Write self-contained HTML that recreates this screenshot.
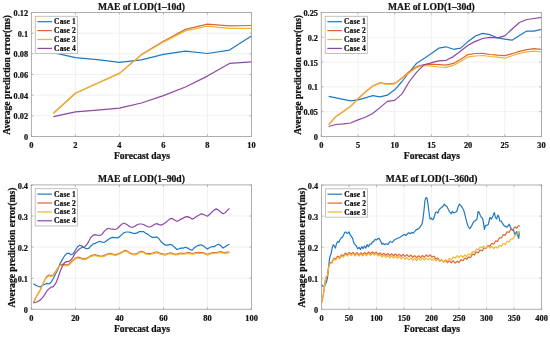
<!DOCTYPE html>
<html><head><meta charset="utf-8"><style>
html,body{margin:0;padding:0;background:#fff;}
svg{display:block;will-change:transform;filter:blur(0.25px);}
text{font-family:"Liberation Serif",serif;font-weight:bold;stroke:#111;stroke-width:0.22px;}
</style></head><body>
<svg width="550" height="337" viewBox="0 0 550 337" font-family="Liberation Serif, serif" font-weight="bold" fill="#111">
<rect width="550" height="337" fill="#fff"/>
<line x1="75.41" y1="12.5" x2="75.41" y2="136.45" stroke="#eeeeee" stroke-width="0.8"/>
<line x1="119.42" y1="12.5" x2="119.42" y2="136.45" stroke="#eeeeee" stroke-width="0.8"/>
<line x1="163.43" y1="12.5" x2="163.43" y2="136.45" stroke="#eeeeee" stroke-width="0.8"/>
<line x1="207.44" y1="12.5" x2="207.44" y2="136.45" stroke="#eeeeee" stroke-width="0.8"/>
<line x1="31.4" y1="115.79" x2="251.45" y2="115.79" stroke="#eeeeee" stroke-width="0.8"/>
<line x1="31.4" y1="95.13" x2="251.45" y2="95.13" stroke="#eeeeee" stroke-width="0.8"/>
<line x1="31.4" y1="74.47" x2="251.45" y2="74.47" stroke="#eeeeee" stroke-width="0.8"/>
<line x1="31.4" y1="53.82" x2="251.45" y2="53.82" stroke="#eeeeee" stroke-width="0.8"/>
<line x1="31.4" y1="33.16" x2="251.45" y2="33.16" stroke="#eeeeee" stroke-width="0.8"/>
<path d="M53.41,52.60 L75.41,57.60 L97.41,59.60 L119.42,62.30 L141.43,59.80 L163.43,54.30 L185.44,51.20 L207.44,53.50 L229.44,50.10 L251.45,35.90" fill="none" stroke="#1E79C4" stroke-width="1.2" stroke-linejoin="round"/>
<path d="M53.41,113.20 L75.41,93.20 L97.41,83.30 L119.42,73.40 L141.43,54.60 L163.43,41.30 L185.44,29.40 L207.44,24.20 L229.44,25.90 L251.45,25.50" fill="none" stroke="#DF6535" stroke-width="1.2" stroke-linejoin="round"/>
<path d="M53.41,113.20 L75.41,93.20 L97.41,83.30 L119.42,73.40 L141.43,55.00 L163.43,42.10 L185.44,30.90 L207.44,26.10 L229.44,28.40 L251.45,28.40" fill="none" stroke="#EFB633" stroke-width="1.2" stroke-linejoin="round"/>
<path d="M53.41,116.60 L75.41,111.90 L97.41,110.10 L119.42,108.10 L141.43,103.00 L163.43,95.60 L185.44,87.00 L207.44,76.10 L229.44,63.40 L251.45,61.90" fill="none" stroke="#9046A6" stroke-width="1.2" stroke-linejoin="round"/>
<rect x="31.4" y="12.5" width="220.05" height="123.95" fill="none" stroke="#a6a6a6" stroke-width="0.9"/>
<line x1="31.40" y1="136.45" x2="31.40" y2="134.45" stroke="#a6a6a6" stroke-width="0.8"/>
<line x1="31.40" y1="12.5" x2="31.40" y2="14.5" stroke="#a6a6a6" stroke-width="0.8"/>
<line x1="75.41" y1="136.45" x2="75.41" y2="134.45" stroke="#a6a6a6" stroke-width="0.8"/>
<line x1="75.41" y1="12.5" x2="75.41" y2="14.5" stroke="#a6a6a6" stroke-width="0.8"/>
<line x1="119.42" y1="136.45" x2="119.42" y2="134.45" stroke="#a6a6a6" stroke-width="0.8"/>
<line x1="119.42" y1="12.5" x2="119.42" y2="14.5" stroke="#a6a6a6" stroke-width="0.8"/>
<line x1="163.43" y1="136.45" x2="163.43" y2="134.45" stroke="#a6a6a6" stroke-width="0.8"/>
<line x1="163.43" y1="12.5" x2="163.43" y2="14.5" stroke="#a6a6a6" stroke-width="0.8"/>
<line x1="207.44" y1="136.45" x2="207.44" y2="134.45" stroke="#a6a6a6" stroke-width="0.8"/>
<line x1="207.44" y1="12.5" x2="207.44" y2="14.5" stroke="#a6a6a6" stroke-width="0.8"/>
<line x1="251.45" y1="136.45" x2="251.45" y2="134.45" stroke="#a6a6a6" stroke-width="0.8"/>
<line x1="251.45" y1="12.5" x2="251.45" y2="14.5" stroke="#a6a6a6" stroke-width="0.8"/>
<line x1="31.4" y1="136.45" x2="33.4" y2="136.45" stroke="#a6a6a6" stroke-width="0.8"/>
<line x1="251.45" y1="136.45" x2="249.45" y2="136.45" stroke="#a6a6a6" stroke-width="0.8"/>
<line x1="31.4" y1="115.79" x2="33.4" y2="115.79" stroke="#a6a6a6" stroke-width="0.8"/>
<line x1="251.45" y1="115.79" x2="249.45" y2="115.79" stroke="#a6a6a6" stroke-width="0.8"/>
<line x1="31.4" y1="95.13" x2="33.4" y2="95.13" stroke="#a6a6a6" stroke-width="0.8"/>
<line x1="251.45" y1="95.13" x2="249.45" y2="95.13" stroke="#a6a6a6" stroke-width="0.8"/>
<line x1="31.4" y1="74.47" x2="33.4" y2="74.47" stroke="#a6a6a6" stroke-width="0.8"/>
<line x1="251.45" y1="74.47" x2="249.45" y2="74.47" stroke="#a6a6a6" stroke-width="0.8"/>
<line x1="31.4" y1="53.82" x2="33.4" y2="53.82" stroke="#a6a6a6" stroke-width="0.8"/>
<line x1="251.45" y1="53.82" x2="249.45" y2="53.82" stroke="#a6a6a6" stroke-width="0.8"/>
<line x1="31.4" y1="33.16" x2="33.4" y2="33.16" stroke="#a6a6a6" stroke-width="0.8"/>
<line x1="251.45" y1="33.16" x2="249.45" y2="33.16" stroke="#a6a6a6" stroke-width="0.8"/>
<line x1="31.4" y1="12.50" x2="33.4" y2="12.50" stroke="#a6a6a6" stroke-width="0.8"/>
<line x1="251.45" y1="12.50" x2="249.45" y2="12.50" stroke="#a6a6a6" stroke-width="0.8"/>
<text x="31.40" y="147.85" font-size="8.4" text-anchor="middle">0</text>
<text x="75.41" y="147.85" font-size="8.4" text-anchor="middle">2</text>
<text x="119.42" y="147.85" font-size="8.4" text-anchor="middle">4</text>
<text x="163.43" y="147.85" font-size="8.4" text-anchor="middle">6</text>
<text x="207.44" y="147.85" font-size="8.4" text-anchor="middle">8</text>
<text x="251.45" y="147.85" font-size="8.4" text-anchor="middle">10</text>
<text x="28.10" y="140.05" font-size="8.3" text-anchor="end">0</text>
<text x="28.10" y="119.39" font-size="8.3" text-anchor="end">0.02</text>
<text x="28.10" y="98.73" font-size="8.3" text-anchor="end">0.04</text>
<text x="28.10" y="78.07" font-size="8.3" text-anchor="end">0.06</text>
<text x="28.10" y="57.42" font-size="8.3" text-anchor="end">0.08</text>
<text x="28.10" y="36.76" font-size="8.3" text-anchor="end">0.1</text>
<text x="28.10" y="16.10" font-size="8.3" text-anchor="end">0.12</text>
<text x="141.42" y="9.70" font-size="9.6" text-anchor="middle">MAE of LOD(1–10d)</text>
<text x="141.92" y="159.05" font-size="9.6" text-anchor="middle">Forecast days</text>
<text transform="translate(10.30,74.88) rotate(-90)" x="0" y="0" font-size="9.6" text-anchor="middle">Average prediction error(ms)</text>
<rect x="35.30" y="16.30" width="42.1" height="37.25" fill="#fff" stroke="#b4b4b4" stroke-width="0.8"/>
<line x1="37.40" y1="21.70" x2="52.10" y2="21.70" stroke="#1E79C4" stroke-width="1.2"/>
<text x="54.10" y="24.20" font-size="7.5" letter-spacing="0.14">Case 1</text>
<line x1="37.40" y1="30.60" x2="52.10" y2="30.60" stroke="#DF6535" stroke-width="1.2"/>
<text x="54.10" y="33.10" font-size="7.5" letter-spacing="0.14">Case 2</text>
<line x1="37.40" y1="39.50" x2="52.10" y2="39.50" stroke="#EFB633" stroke-width="1.2"/>
<text x="54.10" y="42.00" font-size="7.5" letter-spacing="0.14">Case 3</text>
<line x1="37.40" y1="48.40" x2="52.10" y2="48.40" stroke="#9046A6" stroke-width="1.2"/>
<text x="54.10" y="50.90" font-size="7.5" letter-spacing="0.14">Case 4</text>
<line x1="357.99" y1="12.5" x2="357.99" y2="136.45" stroke="#eeeeee" stroke-width="0.8"/>
<line x1="394.68" y1="12.5" x2="394.68" y2="136.45" stroke="#eeeeee" stroke-width="0.8"/>
<line x1="431.38" y1="12.5" x2="431.38" y2="136.45" stroke="#eeeeee" stroke-width="0.8"/>
<line x1="468.07" y1="12.5" x2="468.07" y2="136.45" stroke="#eeeeee" stroke-width="0.8"/>
<line x1="504.76" y1="12.5" x2="504.76" y2="136.45" stroke="#eeeeee" stroke-width="0.8"/>
<line x1="321.3" y1="111.66" x2="541.45" y2="111.66" stroke="#eeeeee" stroke-width="0.8"/>
<line x1="321.3" y1="86.87" x2="541.45" y2="86.87" stroke="#eeeeee" stroke-width="0.8"/>
<line x1="321.3" y1="62.08" x2="541.45" y2="62.08" stroke="#eeeeee" stroke-width="0.8"/>
<line x1="321.3" y1="37.29" x2="541.45" y2="37.29" stroke="#eeeeee" stroke-width="0.8"/>
<path d="M328.64,96.30 L335.98,97.80 L343.31,99.30 L350.65,100.80 L357.99,99.80 L365.33,97.80 L372.67,95.70 L380.01,96.80 L387.35,95.20 L394.68,89.80 L402.02,81.50 L409.36,72.10 L416.70,63.20 L424.04,58.40 L431.38,53.50 L438.71,48.20 L446.05,46.80 L453.39,49.30 L460.73,48.10 L468.07,41.40 L475.41,36.00 L482.74,33.40 L490.08,34.70 L497.42,37.90 L504.76,39.10 L512.10,40.20 L519.44,35.50 L526.77,31.00 L534.11,31.10 L541.45,29.30" fill="none" stroke="#1E79C4" stroke-width="1.2" stroke-linejoin="round"/>
<path d="M328.64,124.70 L335.98,116.40 L343.31,111.60 L350.65,106.30 L357.99,98.80 L365.33,92.00 L372.67,86.00 L380.01,82.80 L387.35,83.80 L394.68,83.40 L402.02,78.00 L409.36,71.50 L416.70,66.70 L424.04,64.60 L431.38,64.20 L438.71,64.60 L446.05,65.20 L453.39,63.40 L460.73,59.30 L468.07,54.60 L475.41,53.50 L482.74,53.40 L490.08,54.50 L497.42,55.20 L504.76,55.70 L512.10,53.70 L519.44,51.40 L526.77,49.60 L534.11,48.60 L541.45,49.30" fill="none" stroke="#DF6535" stroke-width="1.2" stroke-linejoin="round"/>
<path d="M328.64,124.70 L335.98,116.40 L343.31,111.60 L350.65,106.30 L357.99,99.10 L365.33,92.30 L372.67,86.30 L380.01,83.20 L387.35,84.30 L394.68,83.80 L402.02,78.50 L409.36,72.70 L416.70,67.60 L424.04,65.50 L431.38,66.10 L438.71,67.00 L446.05,67.30 L453.39,65.40 L460.73,61.40 L468.07,56.90 L475.41,56.00 L482.74,55.50 L490.08,56.50 L497.42,57.20 L504.76,58.20 L512.10,55.70 L519.44,53.40 L526.77,51.90 L534.11,51.10 L541.45,52.00" fill="none" stroke="#EFB633" stroke-width="1.2" stroke-linejoin="round"/>
<path d="M328.64,126.50 L335.98,124.50 L343.31,123.90 L350.65,123.00 L357.99,119.90 L365.33,117.20 L372.67,113.50 L380.01,107.60 L387.35,101.40 L394.68,100.40 L402.02,93.90 L409.36,81.50 L416.70,72.10 L424.04,64.90 L431.38,62.70 L438.71,60.80 L446.05,60.30 L453.39,56.60 L460.73,51.00 L468.07,45.30 L475.41,41.40 L482.74,38.50 L490.08,37.40 L497.42,37.90 L504.76,35.90 L512.10,29.00 L519.44,22.50 L526.77,19.50 L534.11,18.50 L541.45,17.40" fill="none" stroke="#9046A6" stroke-width="1.2" stroke-linejoin="round"/>
<rect x="321.3" y="12.5" width="220.15" height="123.95" fill="none" stroke="#a6a6a6" stroke-width="0.9"/>
<line x1="321.30" y1="136.45" x2="321.30" y2="134.45" stroke="#a6a6a6" stroke-width="0.8"/>
<line x1="321.30" y1="12.5" x2="321.30" y2="14.5" stroke="#a6a6a6" stroke-width="0.8"/>
<line x1="357.99" y1="136.45" x2="357.99" y2="134.45" stroke="#a6a6a6" stroke-width="0.8"/>
<line x1="357.99" y1="12.5" x2="357.99" y2="14.5" stroke="#a6a6a6" stroke-width="0.8"/>
<line x1="394.68" y1="136.45" x2="394.68" y2="134.45" stroke="#a6a6a6" stroke-width="0.8"/>
<line x1="394.68" y1="12.5" x2="394.68" y2="14.5" stroke="#a6a6a6" stroke-width="0.8"/>
<line x1="431.38" y1="136.45" x2="431.38" y2="134.45" stroke="#a6a6a6" stroke-width="0.8"/>
<line x1="431.38" y1="12.5" x2="431.38" y2="14.5" stroke="#a6a6a6" stroke-width="0.8"/>
<line x1="468.07" y1="136.45" x2="468.07" y2="134.45" stroke="#a6a6a6" stroke-width="0.8"/>
<line x1="468.07" y1="12.5" x2="468.07" y2="14.5" stroke="#a6a6a6" stroke-width="0.8"/>
<line x1="504.76" y1="136.45" x2="504.76" y2="134.45" stroke="#a6a6a6" stroke-width="0.8"/>
<line x1="504.76" y1="12.5" x2="504.76" y2="14.5" stroke="#a6a6a6" stroke-width="0.8"/>
<line x1="541.45" y1="136.45" x2="541.45" y2="134.45" stroke="#a6a6a6" stroke-width="0.8"/>
<line x1="541.45" y1="12.5" x2="541.45" y2="14.5" stroke="#a6a6a6" stroke-width="0.8"/>
<line x1="321.3" y1="136.45" x2="323.3" y2="136.45" stroke="#a6a6a6" stroke-width="0.8"/>
<line x1="541.45" y1="136.45" x2="539.45" y2="136.45" stroke="#a6a6a6" stroke-width="0.8"/>
<line x1="321.3" y1="111.66" x2="323.3" y2="111.66" stroke="#a6a6a6" stroke-width="0.8"/>
<line x1="541.45" y1="111.66" x2="539.45" y2="111.66" stroke="#a6a6a6" stroke-width="0.8"/>
<line x1="321.3" y1="86.87" x2="323.3" y2="86.87" stroke="#a6a6a6" stroke-width="0.8"/>
<line x1="541.45" y1="86.87" x2="539.45" y2="86.87" stroke="#a6a6a6" stroke-width="0.8"/>
<line x1="321.3" y1="62.08" x2="323.3" y2="62.08" stroke="#a6a6a6" stroke-width="0.8"/>
<line x1="541.45" y1="62.08" x2="539.45" y2="62.08" stroke="#a6a6a6" stroke-width="0.8"/>
<line x1="321.3" y1="37.29" x2="323.3" y2="37.29" stroke="#a6a6a6" stroke-width="0.8"/>
<line x1="541.45" y1="37.29" x2="539.45" y2="37.29" stroke="#a6a6a6" stroke-width="0.8"/>
<line x1="321.3" y1="12.50" x2="323.3" y2="12.50" stroke="#a6a6a6" stroke-width="0.8"/>
<line x1="541.45" y1="12.50" x2="539.45" y2="12.50" stroke="#a6a6a6" stroke-width="0.8"/>
<text x="321.30" y="147.85" font-size="8.4" text-anchor="middle">0</text>
<text x="357.99" y="147.85" font-size="8.4" text-anchor="middle">5</text>
<text x="394.68" y="147.85" font-size="8.4" text-anchor="middle">10</text>
<text x="431.38" y="147.85" font-size="8.4" text-anchor="middle">15</text>
<text x="468.07" y="147.85" font-size="8.4" text-anchor="middle">20</text>
<text x="504.76" y="147.85" font-size="8.4" text-anchor="middle">25</text>
<text x="541.45" y="147.85" font-size="8.4" text-anchor="middle">30</text>
<text x="318.00" y="140.05" font-size="8.3" text-anchor="end">0</text>
<text x="318.00" y="115.26" font-size="8.3" text-anchor="end">0.05</text>
<text x="318.00" y="90.47" font-size="8.3" text-anchor="end">0.1</text>
<text x="318.00" y="65.68" font-size="8.3" text-anchor="end">0.15</text>
<text x="318.00" y="40.89" font-size="8.3" text-anchor="end">0.2</text>
<text x="318.00" y="16.10" font-size="8.3" text-anchor="end">0.25</text>
<text x="431.38" y="9.70" font-size="9.6" text-anchor="middle">MAE of LOD(1–30d)</text>
<text x="431.88" y="159.05" font-size="9.6" text-anchor="middle">Forecast days</text>
<text transform="translate(300.80,74.88) rotate(-90)" x="0" y="0" font-size="9.6" text-anchor="middle">Average prediction error(ms)</text>
<rect x="325.20" y="16.30" width="42.1" height="37.25" fill="#fff" stroke="#b4b4b4" stroke-width="0.8"/>
<line x1="327.30" y1="21.70" x2="342.00" y2="21.70" stroke="#1E79C4" stroke-width="1.2"/>
<text x="344.00" y="24.20" font-size="7.5" letter-spacing="0.14">Case 1</text>
<line x1="327.30" y1="30.60" x2="342.00" y2="30.60" stroke="#DF6535" stroke-width="1.2"/>
<text x="344.00" y="33.10" font-size="7.5" letter-spacing="0.14">Case 2</text>
<line x1="327.30" y1="39.50" x2="342.00" y2="39.50" stroke="#EFB633" stroke-width="1.2"/>
<text x="344.00" y="42.00" font-size="7.5" letter-spacing="0.14">Case 3</text>
<line x1="327.30" y1="48.40" x2="342.00" y2="48.40" stroke="#9046A6" stroke-width="1.2"/>
<text x="344.00" y="50.90" font-size="7.5" letter-spacing="0.14">Case 4</text>
<line x1="75.35" y1="184.9" x2="75.35" y2="309.3" stroke="#eeeeee" stroke-width="0.8"/>
<line x1="119.40" y1="184.9" x2="119.40" y2="309.3" stroke="#eeeeee" stroke-width="0.8"/>
<line x1="163.45" y1="184.9" x2="163.45" y2="309.3" stroke="#eeeeee" stroke-width="0.8"/>
<line x1="207.50" y1="184.9" x2="207.50" y2="309.3" stroke="#eeeeee" stroke-width="0.8"/>
<line x1="31.3" y1="278.20" x2="251.55" y2="278.20" stroke="#eeeeee" stroke-width="0.8"/>
<line x1="31.3" y1="247.10" x2="251.55" y2="247.10" stroke="#eeeeee" stroke-width="0.8"/>
<line x1="31.3" y1="216.00" x2="251.55" y2="216.00" stroke="#eeeeee" stroke-width="0.8"/>
<path d="M33.50,283.70 L35.70,285.20 L37.91,286.30 L40.11,287.00 L42.31,285.50 L44.52,284.50 L46.72,283.40 L48.92,284.00 L51.12,282.30 L53.33,278.50 L55.53,274.10 L57.73,269.60 L59.93,264.00 L62.14,259.90 L64.34,256.20 L66.54,253.60 L68.74,253.20 L70.95,254.70 L73.15,253.90 L75.35,250.30 L77.55,246.70 L79.75,245.30 L81.96,246.10 L84.16,247.60 L86.36,248.70 L88.56,248.50 L90.77,246.20 L92.97,244.10 L95.17,243.40 L97.38,242.30 L99.58,241.30 L101.78,242.10 L103.98,242.40 L106.19,241.00 L108.39,239.40 L110.59,237.90 L112.79,237.30 L114.99,237.60 L117.20,237.90 L119.40,236.90 L121.60,234.70 L123.80,232.90 L126.01,232.00 L128.21,232.00 L130.41,232.40 L132.62,233.20 L134.82,233.60 L137.02,232.90 L139.22,231.70 L141.43,231.50 L143.63,231.70 L145.83,233.20 L148.03,234.40 L150.24,236.20 L152.44,237.40 L154.64,237.40 L156.84,236.90 L159.05,238.90 L161.25,241.80 L163.45,243.90 L165.65,245.10 L167.86,245.10 L170.06,244.40 L172.26,245.10 L174.46,247.30 L176.67,249.30 L178.87,248.80 L181.07,248.10 L183.27,248.10 L185.48,247.30 L187.68,248.10 L189.88,249.40 L192.08,250.20 L194.29,247.80 L196.49,246.20 L198.69,245.40 L200.89,244.80 L203.09,245.60 L205.30,247.50 L207.50,249.10 L209.70,247.50 L211.91,246.70 L214.11,246.70 L216.31,245.20 L218.51,244.20 L220.72,245.60 L222.92,248.10 L225.12,246.70 L227.32,245.20 L229.53,244.20" fill="none" stroke="#1E79C4" stroke-width="1.2" stroke-linejoin="round"/>
<path d="M33.50,303.00 L35.70,297.80 L37.91,294.10 L40.11,290.40 L42.31,285.20 L44.52,280.50 L46.72,276.50 L48.92,275.00 L51.12,275.50 L53.33,275.00 L55.53,271.50 L57.73,268.00 L59.93,265.00 L62.14,264.30 L64.34,264.30 L66.54,265.00 L68.74,264.30 L70.95,262.10 L73.15,259.90 L75.35,258.20 L77.55,257.20 L79.75,257.70 L81.96,258.30 L84.16,258.80 L86.36,258.30 L88.56,257.20 L90.77,255.80 L92.97,255.10 L95.17,254.70 L97.38,255.30 L99.58,255.80 L101.78,256.10 L103.98,255.60 L106.19,254.50 L108.39,253.60 L110.59,253.30 L112.79,254.00 L114.99,254.50 L117.20,254.20 L119.40,253.30 L121.60,252.20 L123.80,250.90 L126.01,250.40 L128.21,251.80 L130.41,253.00 L132.62,254.00 L134.82,254.00 L137.02,253.50 L139.22,252.00 L141.43,251.20 L143.63,252.00 L145.83,253.30 L148.03,253.70 L150.24,253.70 L152.44,253.00 L154.64,252.50 L156.84,251.80 L159.05,252.80 L161.25,253.70 L163.45,254.00 L165.65,254.30 L167.86,253.50 L170.06,252.80 L172.26,253.30 L174.46,254.00 L176.67,254.00 L178.87,253.50 L181.07,253.00 L183.27,253.30 L185.48,253.00 L187.68,252.50 L189.88,252.90 L192.08,253.50 L194.29,253.00 L196.49,252.50 L198.69,252.30 L200.89,252.50 L203.09,252.50 L205.30,253.50 L207.50,254.30 L209.70,253.50 L211.91,252.80 L214.11,252.50 L216.31,252.30 L218.51,252.00 L220.72,251.60 L222.92,252.30 L225.12,252.50 L227.32,252.20 L229.53,252.00" fill="none" stroke="#DF6535" stroke-width="1.2" stroke-linejoin="round"/>
<path d="M33.50,303.00 L35.70,297.80 L37.91,294.10 L40.11,290.40 L42.31,285.20 L44.52,280.50 L46.72,277.50 L48.92,276.00 L51.12,276.50 L53.33,276.00 L55.53,272.00 L57.73,268.50 L59.93,265.50 L62.14,265.30 L64.34,265.30 L66.54,266.00 L68.74,265.30 L70.95,263.10 L73.15,260.70 L75.35,259.00 L77.55,258.00 L79.75,258.50 L81.96,259.10 L84.16,259.60 L86.36,259.10 L88.56,258.00 L90.77,256.60 L92.97,255.90 L95.17,255.50 L97.38,256.10 L99.58,256.60 L101.78,256.90 L103.98,256.40 L106.19,255.30 L108.39,254.40 L110.59,254.10 L112.79,254.80 L114.99,255.30 L117.20,255.00 L119.40,254.10 L121.60,253.00 L123.80,251.70 L126.01,251.20 L128.21,252.60 L130.41,253.80 L132.62,254.80 L134.82,254.80 L137.02,254.30 L139.22,252.80 L141.43,252.00 L143.63,252.80 L145.83,254.10 L148.03,254.50 L150.24,254.50 L152.44,253.80 L154.64,253.30 L156.84,252.60 L159.05,253.60 L161.25,254.50 L163.45,254.80 L165.65,255.10 L167.86,254.30 L170.06,253.60 L172.26,254.10 L174.46,254.80 L176.67,254.80 L178.87,254.30 L181.07,253.80 L183.27,254.10 L185.48,253.80 L187.68,253.30 L189.88,253.70 L192.08,254.30 L194.29,253.80 L196.49,253.30 L198.69,253.10 L200.89,253.30 L203.09,253.30 L205.30,254.30 L207.50,255.10 L209.70,254.30 L211.91,253.60 L214.11,253.30 L216.31,253.10 L218.51,252.80 L220.72,252.40 L222.92,253.10 L225.12,253.30 L227.32,253.00 L229.53,252.80" fill="none" stroke="#EFB633" stroke-width="1.2" stroke-linejoin="round"/>
<path d="M33.50,303.00 L35.70,302.30 L37.91,301.50 L40.11,300.10 L42.31,297.80 L44.52,294.90 L46.72,291.20 L48.92,288.90 L51.12,287.20 L53.33,286.70 L55.53,283.70 L57.73,278.50 L59.93,272.00 L62.14,266.50 L64.34,262.80 L66.54,261.60 L68.74,261.50 L70.95,260.00 L73.15,256.90 L75.35,253.00 L77.55,250.80 L79.75,248.70 L81.96,247.50 L84.16,247.40 L86.36,245.20 L88.56,241.80 L90.77,237.50 L92.97,235.40 L95.17,234.60 L97.38,235.10 L99.58,235.50 L101.78,234.70 L103.98,231.70 L106.19,229.30 L108.39,228.30 L110.59,229.00 L112.79,229.20 L114.99,229.50 L117.20,228.70 L119.40,226.50 L121.60,224.30 L123.80,223.20 L126.01,224.00 L128.21,225.50 L130.41,227.00 L132.62,227.30 L134.82,226.20 L137.02,224.70 L139.22,224.00 L141.43,224.00 L143.63,224.50 L145.83,225.80 L148.03,226.80 L150.24,227.00 L152.44,225.80 L154.64,224.30 L156.84,223.60 L159.05,224.60 L161.25,225.10 L163.45,224.00 L165.65,222.50 L167.86,220.60 L170.06,218.80 L172.26,218.40 L174.46,219.90 L176.67,221.30 L178.87,220.60 L181.07,219.10 L183.27,218.10 L185.48,216.90 L187.68,216.60 L189.88,217.60 L192.08,219.10 L194.29,218.20 L196.49,216.60 L198.69,215.30 L200.89,213.90 L203.09,214.30 L205.30,215.30 L207.50,216.20 L209.70,214.30 L211.91,212.00 L214.11,210.10 L216.31,208.90 L218.51,210.10 L220.72,212.00 L222.92,213.70 L225.12,212.80 L227.32,210.40 L229.53,208.50" fill="none" stroke="#9046A6" stroke-width="1.2" stroke-linejoin="round"/>
<rect x="31.3" y="184.9" width="220.25" height="124.40" fill="none" stroke="#a6a6a6" stroke-width="0.9"/>
<line x1="31.30" y1="309.3" x2="31.30" y2="307.3" stroke="#a6a6a6" stroke-width="0.8"/>
<line x1="31.30" y1="184.9" x2="31.30" y2="186.9" stroke="#a6a6a6" stroke-width="0.8"/>
<line x1="75.35" y1="309.3" x2="75.35" y2="307.3" stroke="#a6a6a6" stroke-width="0.8"/>
<line x1="75.35" y1="184.9" x2="75.35" y2="186.9" stroke="#a6a6a6" stroke-width="0.8"/>
<line x1="119.40" y1="309.3" x2="119.40" y2="307.3" stroke="#a6a6a6" stroke-width="0.8"/>
<line x1="119.40" y1="184.9" x2="119.40" y2="186.9" stroke="#a6a6a6" stroke-width="0.8"/>
<line x1="163.45" y1="309.3" x2="163.45" y2="307.3" stroke="#a6a6a6" stroke-width="0.8"/>
<line x1="163.45" y1="184.9" x2="163.45" y2="186.9" stroke="#a6a6a6" stroke-width="0.8"/>
<line x1="207.50" y1="309.3" x2="207.50" y2="307.3" stroke="#a6a6a6" stroke-width="0.8"/>
<line x1="207.50" y1="184.9" x2="207.50" y2="186.9" stroke="#a6a6a6" stroke-width="0.8"/>
<line x1="251.55" y1="309.3" x2="251.55" y2="307.3" stroke="#a6a6a6" stroke-width="0.8"/>
<line x1="251.55" y1="184.9" x2="251.55" y2="186.9" stroke="#a6a6a6" stroke-width="0.8"/>
<line x1="31.3" y1="309.30" x2="33.3" y2="309.30" stroke="#a6a6a6" stroke-width="0.8"/>
<line x1="251.55" y1="309.30" x2="249.55" y2="309.30" stroke="#a6a6a6" stroke-width="0.8"/>
<line x1="31.3" y1="278.20" x2="33.3" y2="278.20" stroke="#a6a6a6" stroke-width="0.8"/>
<line x1="251.55" y1="278.20" x2="249.55" y2="278.20" stroke="#a6a6a6" stroke-width="0.8"/>
<line x1="31.3" y1="247.10" x2="33.3" y2="247.10" stroke="#a6a6a6" stroke-width="0.8"/>
<line x1="251.55" y1="247.10" x2="249.55" y2="247.10" stroke="#a6a6a6" stroke-width="0.8"/>
<line x1="31.3" y1="216.00" x2="33.3" y2="216.00" stroke="#a6a6a6" stroke-width="0.8"/>
<line x1="251.55" y1="216.00" x2="249.55" y2="216.00" stroke="#a6a6a6" stroke-width="0.8"/>
<line x1="31.3" y1="184.90" x2="33.3" y2="184.90" stroke="#a6a6a6" stroke-width="0.8"/>
<line x1="251.55" y1="184.90" x2="249.55" y2="184.90" stroke="#a6a6a6" stroke-width="0.8"/>
<text x="31.30" y="320.70" font-size="8.4" text-anchor="middle">0</text>
<text x="75.35" y="320.70" font-size="8.4" text-anchor="middle">20</text>
<text x="119.40" y="320.70" font-size="8.4" text-anchor="middle">40</text>
<text x="163.45" y="320.70" font-size="8.4" text-anchor="middle">60</text>
<text x="207.50" y="320.70" font-size="8.4" text-anchor="middle">80</text>
<text x="251.55" y="320.70" font-size="8.4" text-anchor="middle">100</text>
<text x="28.00" y="312.90" font-size="8.3" text-anchor="end">0</text>
<text x="28.00" y="281.80" font-size="8.3" text-anchor="end">0.1</text>
<text x="28.00" y="250.70" font-size="8.3" text-anchor="end">0.2</text>
<text x="28.00" y="219.60" font-size="8.3" text-anchor="end">0.3</text>
<text x="28.00" y="188.50" font-size="8.3" text-anchor="end">0.4</text>
<text x="141.43" y="182.10" font-size="9.6" text-anchor="middle">MAE of LOD(1–90d)</text>
<text x="141.93" y="331.90" font-size="9.6" text-anchor="middle">Forecast days</text>
<text transform="translate(14.60,247.50) rotate(-90)" x="0" y="0" font-size="9.6" text-anchor="middle">Average prediction error(ms)</text>
<rect x="35.20" y="188.70" width="42.1" height="37.25" fill="#fff" stroke="#b4b4b4" stroke-width="0.8"/>
<line x1="37.30" y1="194.10" x2="52.00" y2="194.10" stroke="#1E79C4" stroke-width="1.2"/>
<text x="54.00" y="196.60" font-size="7.5" letter-spacing="0.14">Case 1</text>
<line x1="37.30" y1="203.00" x2="52.00" y2="203.00" stroke="#DF6535" stroke-width="1.2"/>
<text x="54.00" y="205.50" font-size="7.5" letter-spacing="0.14">Case 2</text>
<line x1="37.30" y1="211.90" x2="52.00" y2="211.90" stroke="#EFB633" stroke-width="1.2"/>
<text x="54.00" y="214.40" font-size="7.5" letter-spacing="0.14">Case 3</text>
<line x1="37.30" y1="220.80" x2="52.00" y2="220.80" stroke="#9046A6" stroke-width="1.2"/>
<text x="54.00" y="223.30" font-size="7.5" letter-spacing="0.14">Case 4</text>
<line x1="349.01" y1="185.0" x2="349.01" y2="309.3" stroke="#eeeeee" stroke-width="0.8"/>
<line x1="376.52" y1="185.0" x2="376.52" y2="309.3" stroke="#eeeeee" stroke-width="0.8"/>
<line x1="404.04" y1="185.0" x2="404.04" y2="309.3" stroke="#eeeeee" stroke-width="0.8"/>
<line x1="431.55" y1="185.0" x2="431.55" y2="309.3" stroke="#eeeeee" stroke-width="0.8"/>
<line x1="459.06" y1="185.0" x2="459.06" y2="309.3" stroke="#eeeeee" stroke-width="0.8"/>
<line x1="486.57" y1="185.0" x2="486.57" y2="309.3" stroke="#eeeeee" stroke-width="0.8"/>
<line x1="514.09" y1="185.0" x2="514.09" y2="309.3" stroke="#eeeeee" stroke-width="0.8"/>
<line x1="321.5" y1="278.23" x2="541.6" y2="278.23" stroke="#eeeeee" stroke-width="0.8"/>
<line x1="321.5" y1="247.15" x2="541.6" y2="247.15" stroke="#eeeeee" stroke-width="0.8"/>
<line x1="321.5" y1="216.08" x2="541.6" y2="216.08" stroke="#eeeeee" stroke-width="0.8"/>
<path d="M321.60,284.40 L322.90,286.30 L324.20,286.80 L325.30,284.40 L326.50,281.90 L327.50,277.80 L328.10,271.30 L328.80,264.80 L329.40,259.90 L330.20,255.80 L331.00,254.10 L332.30,247.40 L333.30,244.70 L334.40,246.10 L335.40,248.10 L336.40,244.10 L337.70,241.40 L339.00,242.10 L340.00,240.00 L341.00,238.00 L342.40,237.40 L343.70,234.70 L344.80,232.30 L346.10,232.00 L347.00,233.40 L348.00,233.10 L349.10,232.00 L350.10,234.70 L351.50,236.70 L352.80,238.70 L353.70,242.70 L355.10,244.70 L356.40,246.10 L357.70,248.70 L359.10,247.40 L360.40,249.40 L361.80,246.70 L363.10,248.70 L364.40,246.10 L365.80,248.10 L367.10,244.70 L368.40,246.70 L369.80,244.10 L371.10,244.10 L372.40,242.10 L373.80,241.40 L375.10,239.40 L376.50,240.00 L377.80,238.70 L379.10,238.40 L380.50,240.70 L381.80,244.10 L383.10,243.40 L384.50,244.70 L386.00,243.70 L388.00,244.40 L390.00,241.70 L392.00,242.30 L394.00,240.30 L396.00,239.00 L398.70,237.70 L400.00,237.20 L401.50,236.30 L403.00,235.30 L404.50,234.30 L405.90,235.70 L407.40,233.80 L408.60,232.80 L410.10,233.80 L411.60,232.30 L413.10,233.10 L414.60,231.60 L416.00,229.80 L417.50,229.40 L419.00,228.30 L420.50,226.40 L422.00,224.20 L423.00,219.00 L424.10,209.30 L425.00,200.40 L426.00,197.40 L427.00,198.20 L427.90,203.40 L429.00,212.30 L430.00,219.00 L431.20,218.20 L432.40,219.70 L433.40,219.00 L434.50,216.00 L435.60,212.30 L436.80,212.00 L437.90,213.00 L438.90,210.10 L440.10,208.60 L441.60,207.50 L443.10,206.00 L444.30,204.10 L445.30,205.60 L446.80,206.30 L448.30,209.30 L449.80,212.00 L451.20,213.80 L452.30,211.50 L453.80,213.00 L455.20,212.30 L456.70,211.50 L458.00,207.10 L459.50,204.10 L460.90,205.60 L462.40,207.80 L463.90,210.80 L465.40,216.70 L466.90,222.70 L468.40,227.10 L469.90,228.60 L471.30,226.40 L472.80,223.40 L474.30,221.20 L475.80,220.40 L477.00,219.00 L478.00,211.50 L479.10,212.30 L480.20,215.20 L481.40,217.50 L482.50,218.20 L483.50,222.70 L484.40,229.40 L485.40,225.60 L486.90,225.30 L488.40,224.20 L489.90,217.50 L491.40,219.00 L492.90,216.00 L494.40,212.60 L495.40,217.50 L496.60,219.00 L497.80,215.20 L498.80,216.70 L499.90,221.20 L501.30,221.20 L502.50,223.40 L504.00,225.60 L505.50,226.40 L507.00,227.10 L508.20,225.60 L509.20,224.20 L510.30,226.80 L511.40,229.40 L512.70,230.10 L513.70,230.60 L514.70,234.20 L515.80,233.20 L516.80,231.60 L517.90,235.80 L518.70,238.40 L519.40,231.60" fill="none" stroke="#1E79C4" stroke-width="1.2" stroke-linejoin="round"/>
<path d="M322.05,302.30 L322.60,298.87 L323.15,295.46 L323.70,292.07 L324.25,288.59 L324.80,284.24 L325.35,280.12 L325.90,278.24 L326.45,276.36 L327.00,276.05 L327.55,275.50 L328.10,271.28 L328.65,267.48 L329.20,265.27 L329.75,263.61 L330.30,262.85 L330.85,262.43 L331.40,262.33 L331.95,262.32 L332.50,261.28 L333.06,259.96 L333.61,258.64 L334.16,258.20 L334.71,258.55 L335.26,258.91 L335.81,259.13 L336.36,258.23 L336.91,257.33 L337.46,256.42 L338.01,256.28 L338.56,256.77 L339.11,257.26 L339.66,257.62 L340.21,256.80 L340.76,255.90 L341.31,255.00 L341.86,254.85 L342.41,255.20 L342.96,255.55 L343.51,255.78 L344.06,254.88 L344.61,253.97 L345.16,253.13 L345.71,253.16 L346.26,253.70 L346.81,254.24 L347.36,254.66 L347.91,253.94 L348.46,253.23 L349.01,252.51 L349.56,252.55 L350.11,253.11 L350.66,253.77 L351.21,254.31 L351.76,253.71 L352.31,253.12 L352.86,252.52 L353.41,252.68 L353.96,253.34 L354.51,254.01 L355.07,254.54 L355.62,253.95 L356.17,253.35 L356.72,252.75 L357.27,252.91 L357.82,253.57 L358.37,254.24 L358.92,254.77 L359.47,254.18 L360.02,253.58 L360.57,252.89 L361.12,252.97 L361.67,253.54 L362.22,254.11 L362.77,254.56 L363.32,253.88 L363.87,253.19 L364.42,252.51 L364.97,252.58 L365.52,253.15 L366.07,253.73 L366.62,254.18 L367.17,253.49 L367.72,252.81 L368.27,252.12 L368.82,252.19 L369.37,252.77 L369.92,253.34 L370.47,253.84 L371.02,253.21 L371.57,252.58 L372.12,251.95 L372.67,252.08 L373.22,252.71 L373.77,253.33 L374.32,253.84 L374.87,253.21 L375.42,252.66 L375.97,252.15 L376.52,252.38 L377.08,253.12 L377.63,253.86 L378.18,254.47 L378.73,253.95 L379.28,253.44 L379.83,252.92 L380.38,253.15 L380.93,253.89 L381.48,254.57 L382.03,255.11 L382.58,254.51 L383.13,253.92 L383.68,253.33 L384.23,253.49 L384.78,254.16 L385.33,254.82 L385.88,255.36 L386.43,254.77 L386.98,254.18 L387.53,253.59 L388.08,253.75 L388.63,254.41 L389.18,255.08 L389.73,255.62 L390.28,255.03 L390.83,254.44 L391.38,253.84 L391.93,254.01 L392.48,254.67 L393.03,255.34 L393.58,255.87 L394.13,255.27 L394.68,254.66 L395.23,254.06 L395.78,254.22 L396.33,254.87 L396.88,255.53 L397.43,256.06 L397.98,255.46 L398.54,254.86 L399.09,254.26 L399.64,254.41 L400.19,255.07 L400.74,255.72 L401.29,256.25 L401.84,255.65 L402.39,255.05 L402.94,254.45 L403.49,254.60 L404.04,255.26 L404.59,255.91 L405.14,256.45 L405.69,255.88 L406.24,255.32 L406.79,254.75 L407.34,254.93 L407.89,255.62 L408.44,256.31 L408.99,256.87 L409.54,256.30 L410.09,255.74 L410.64,255.17 L411.19,255.37 L411.74,256.07 L412.29,256.78 L412.84,257.35 L413.39,256.80 L413.94,256.25 L414.49,255.69 L415.04,255.89 L415.59,256.60 L416.14,257.30 L416.69,257.82 L417.24,257.17 L417.79,256.51 L418.34,255.85 L418.89,255.95 L419.44,256.55 L419.99,257.15 L420.55,257.63 L421.10,256.97 L421.65,256.31 L422.20,255.66 L422.75,255.71 L423.30,256.25 L423.85,256.80 L424.40,257.22 L424.95,256.50 L425.50,255.79 L426.05,255.08 L426.60,255.12 L427.15,255.67 L427.70,256.21 L428.25,256.64 L428.80,256.08 L429.35,255.51 L429.90,254.95 L430.45,255.13 L431.00,255.83 L431.55,256.52 L432.10,257.23 L432.65,256.86 L433.20,256.49 L433.75,256.12 L434.30,256.51 L434.85,257.39 L435.40,258.29 L435.95,259.07 L436.50,258.73 L437.05,258.38 L437.60,258.04 L438.15,258.44 L438.70,259.36 L439.25,260.23 L439.80,260.96 L440.35,260.57 L440.90,260.17 L441.45,259.78 L442.00,260.14 L442.56,260.86 L443.11,261.55 L443.66,262.11 L444.21,261.54 L444.76,260.98 L445.31,260.41 L445.86,260.60 L446.41,261.29 L446.96,261.98 L447.51,262.54 L448.06,261.98 L448.61,261.41 L449.16,260.85 L449.71,260.98 L450.26,261.61 L450.81,262.23 L451.36,262.74 L451.91,262.11 L452.46,261.48 L453.01,260.89 L453.56,261.10 L454.11,261.82 L454.66,262.54 L455.21,263.14 L455.76,262.60 L456.31,262.07 L456.86,261.33 L457.41,261.31 L457.96,261.80 L458.51,262.28 L459.06,262.56 L459.61,261.65 L460.16,260.75 L460.71,259.84 L461.26,259.70 L461.81,260.05 L462.36,260.41 L462.91,260.73 L463.46,259.91 L464.01,259.09 L464.57,258.27 L465.12,258.21 L465.67,258.65 L466.22,259.10 L466.77,259.42 L467.32,258.60 L467.87,257.79 L468.42,256.98 L468.97,256.92 L469.52,257.31 L470.07,257.50 L470.62,257.56 L471.17,256.48 L471.72,255.41 L472.27,254.34 L472.82,254.02 L473.37,254.32 L473.92,254.66 L474.47,254.88 L475.02,253.97 L475.57,253.06 L476.12,252.15 L476.67,251.99 L477.22,252.35 L477.77,252.70 L478.32,252.93 L478.87,252.02 L479.42,251.12 L479.97,250.22 L480.52,250.06 L481.07,250.41 L481.62,250.75 L482.17,250.97 L482.72,250.06 L483.27,249.15 L483.82,248.21 L484.37,247.98 L484.92,248.26 L485.47,248.54 L486.02,248.69 L486.57,247.71 L487.13,246.73 L487.68,245.73 L488.23,245.52 L488.78,245.84 L489.33,246.17 L489.88,246.36 L490.43,245.43 L490.98,244.49 L491.53,243.55 L492.08,243.36 L492.63,243.67 L493.18,243.99 L493.73,244.17 L494.28,243.23 L494.83,242.22 L495.38,241.21 L495.93,240.96 L496.48,241.15 L497.03,241.34 L497.58,241.39 L498.13,240.31 L498.68,239.19 L499.23,238.08 L499.78,237.72 L500.33,237.87 L500.88,238.01 L501.43,238.06 L501.98,237.01 L502.53,235.96 L503.08,234.92 L503.63,234.64 L504.18,234.88 L504.73,235.11 L505.28,235.22 L505.83,234.18 L506.38,233.13 L506.93,232.08 L507.48,231.79 L508.03,232.00 L508.59,232.22 L509.14,232.31 L509.69,231.27 L510.24,230.22 L510.79,229.17 L511.34,228.88 L511.89,229.17 L512.44,229.54 L512.99,229.78 L513.54,228.89 L514.09,228.01 L514.64,227.15 L515.19,227.04 L515.74,227.43 L516.29,227.87 L516.84,228.19 L517.39,227.38 L517.94,226.57 L518.49,225.75 L519.04,225.70 L519.59,226.21" fill="none" stroke="#DF6535" stroke-width="1.2" stroke-linejoin="round"/>
<path d="M322.05,302.30 L322.60,298.87 L323.15,295.46 L323.70,292.07 L324.25,288.59 L324.80,284.24 L325.35,280.12 L325.90,278.24 L326.45,276.36 L327.00,276.05 L327.55,275.50 L328.10,271.28 L328.65,267.48 L329.20,265.49 L329.75,264.12 L330.30,263.44 L330.85,263.11 L331.40,263.05 L331.95,263.09 L332.50,262.09 L333.06,260.84 L333.61,259.60 L334.16,259.20 L334.71,259.55 L335.26,259.91 L335.81,260.13 L336.36,259.27 L336.91,258.42 L337.46,257.57 L338.01,257.47 L338.56,257.91 L339.11,258.35 L339.66,258.66 L340.21,257.83 L340.76,256.98 L341.31,256.13 L341.86,256.03 L342.41,256.44 L342.96,256.85 L343.51,257.13 L344.06,256.28 L344.61,255.44 L345.16,254.62 L345.71,254.63 L346.26,255.15 L346.81,255.67 L347.36,256.06 L347.91,255.33 L348.46,254.59 L349.01,253.85 L349.56,253.86 L350.11,254.41 L350.66,255.07 L351.21,255.61 L351.76,255.01 L352.31,254.42 L352.86,253.82 L353.41,253.98 L353.96,254.64 L354.51,255.31 L355.07,255.84 L355.62,255.23 L356.17,254.63 L356.72,254.02 L357.27,254.17 L357.82,254.82 L358.37,255.47 L358.92,255.99 L359.47,255.39 L360.02,254.78 L360.57,254.13 L361.12,254.23 L361.67,254.84 L362.22,255.45 L362.77,255.93 L363.32,255.28 L363.87,254.63 L364.42,253.97 L364.97,254.08 L365.52,254.67 L366.07,255.27 L366.62,255.74 L367.17,255.08 L367.72,254.42 L368.27,253.76 L368.82,253.85 L369.37,254.44 L369.92,255.04 L370.47,255.49 L371.02,254.81 L371.57,254.12 L372.12,253.44 L372.67,253.51 L373.22,254.08 L373.77,254.66 L374.32,255.10 L374.87,254.42 L375.42,253.92 L375.97,253.48 L376.52,253.79 L377.08,254.60 L377.63,255.41 L378.18,256.10 L378.73,255.65 L379.28,255.21 L379.83,254.76 L380.38,255.07 L380.93,255.88 L381.48,256.57 L382.03,257.12 L382.58,256.54 L383.13,255.96 L383.68,255.37 L384.23,255.55 L384.78,256.22 L385.33,256.90 L385.88,257.44 L386.43,256.86 L386.98,256.28 L387.53,255.70 L388.08,255.89 L388.63,256.57 L389.18,257.25 L389.73,257.81 L390.28,257.24 L390.83,256.66 L391.38,256.09 L391.93,256.27 L392.48,256.95 L393.03,257.64 L393.58,258.18 L394.13,257.58 L394.68,256.99 L395.23,256.40 L395.78,256.56 L396.33,257.23 L396.88,257.89 L397.43,258.43 L397.98,257.84 L398.54,257.25 L399.09,256.66 L399.64,256.86 L400.19,257.56 L400.74,258.27 L401.29,258.84 L401.84,258.29 L402.39,257.73 L402.94,257.18 L403.49,257.38 L404.04,258.08 L404.59,258.78 L405.14,259.36 L405.69,258.81 L406.24,258.26 L406.79,257.71 L407.34,257.92 L407.89,258.63 L408.44,259.33 L408.99,259.92 L409.54,259.37 L410.09,258.82 L410.64,258.26 L411.19,258.42 L411.74,259.09 L412.29,259.76 L412.84,260.30 L413.39,259.70 L413.94,259.11 L414.49,258.52 L415.04,258.69 L415.59,259.35 L416.14,260.02 L416.69,260.51 L417.24,259.82 L417.79,259.14 L418.34,258.45 L418.89,258.52 L419.44,259.10 L419.99,259.67 L420.55,260.12 L421.10,259.43 L421.65,258.75 L422.20,258.06 L422.75,258.18 L423.30,258.81 L423.85,259.43 L424.40,259.94 L424.95,259.31 L425.50,258.68 L426.05,258.05 L426.60,258.18 L427.15,258.81 L427.70,259.43 L428.25,259.94 L428.80,259.37 L429.35,258.80 L429.90,258.22 L430.45,258.41 L431.00,259.09 L431.55,259.77 L432.10,260.33 L432.65,259.76 L433.20,259.19 L433.75,258.62 L434.30,258.81 L434.85,259.53 L435.40,260.26 L435.95,260.85 L436.50,260.32 L437.05,259.78 L437.60,259.25 L438.15,259.47 L438.70,260.19 L439.25,260.90 L439.80,261.48 L440.35,260.93 L440.90,260.38 L441.45,259.82 L442.00,260.03 L442.56,260.73 L443.11,261.44 L443.66,262.02 L444.21,261.47 L444.76,260.79 L445.31,259.98 L445.86,259.91 L446.41,260.35 L446.96,260.79 L447.51,261.11 L448.06,260.29 L448.61,259.48 L449.16,258.67 L449.71,258.61 L450.26,259.05 L450.81,259.50 L451.36,259.82 L451.91,258.96 L452.46,258.07 L453.01,257.19 L453.56,257.05 L454.11,257.42 L454.66,257.79 L455.21,258.04 L455.76,257.31 L456.31,256.59 L456.86,255.87 L457.41,255.90 L457.96,256.43 L458.51,256.97 L459.06,257.44 L459.61,256.81 L460.16,256.18 L460.71,255.55 L461.26,255.68 L461.81,256.31 L462.36,256.92 L462.91,257.33 L463.46,256.61 L464.01,255.89 L464.57,255.16 L465.12,255.19 L465.67,255.73 L466.22,256.20 L466.77,256.52 L467.32,255.70 L467.87,254.89 L468.42,254.08 L468.97,254.02 L469.52,254.43 L470.07,254.69 L470.62,254.83 L471.17,253.83 L471.72,252.83 L472.27,251.84 L472.82,251.60 L473.37,251.85 L473.92,252.10 L474.47,252.23 L475.02,251.22 L475.57,250.22 L476.12,249.21 L476.67,248.99 L477.22,249.35 L477.77,249.70 L478.32,249.93 L478.87,249.02 L479.42,248.12 L479.97,247.22 L480.52,246.98 L481.07,247.22 L481.62,247.46 L482.17,247.57 L482.72,246.87 L483.27,246.65 L483.82,246.43 L484.37,246.96 L484.92,247.85 L485.47,248.23 L486.02,248.48 L486.57,247.60 L487.13,246.71 L487.68,246.05 L488.23,246.20 L488.78,246.89 L489.33,247.58 L489.88,248.15 L490.43,247.58 L490.98,247.01 L491.53,246.45 L492.08,246.64 L492.63,247.33 L493.18,248.02 L493.73,248.58 L494.28,248.01 L494.83,247.37 L495.38,246.73 L495.93,246.84 L496.48,247.39 L497.03,247.94 L497.58,248.21 L498.13,247.33 L498.68,246.45 L499.23,245.56 L499.78,245.43 L500.33,245.81 L500.88,246.18 L501.43,246.43 L501.98,245.54 L502.53,244.65 L503.08,243.75 L503.63,243.60 L504.18,243.94 L504.73,244.28 L505.28,244.50 L505.83,243.50 L506.38,242.48 L506.93,241.46 L507.48,241.19 L508.03,241.51 L508.59,241.84 L509.14,242.04 L509.69,241.08 L510.24,240.05 L510.79,239.03 L511.34,238.77 L511.89,238.92 L512.44,239.00 L512.99,238.95 L513.54,237.77 L514.09,236.59 L514.64,235.41 L515.19,234.99 L515.74,235.07 L516.29,234.95 L516.84,234.68 L517.39,233.38 L517.94,232.55 L518.49,231.73 L519.04,232.02 L519.59,232.91" fill="none" stroke="#EFB633" stroke-width="1.2" stroke-linejoin="round"/>
<rect x="321.5" y="185.0" width="220.10" height="124.30" fill="none" stroke="#a6a6a6" stroke-width="0.9"/>
<line x1="321.50" y1="309.3" x2="321.50" y2="307.3" stroke="#a6a6a6" stroke-width="0.8"/>
<line x1="321.50" y1="185.0" x2="321.50" y2="187.0" stroke="#a6a6a6" stroke-width="0.8"/>
<line x1="349.01" y1="309.3" x2="349.01" y2="307.3" stroke="#a6a6a6" stroke-width="0.8"/>
<line x1="349.01" y1="185.0" x2="349.01" y2="187.0" stroke="#a6a6a6" stroke-width="0.8"/>
<line x1="376.52" y1="309.3" x2="376.52" y2="307.3" stroke="#a6a6a6" stroke-width="0.8"/>
<line x1="376.52" y1="185.0" x2="376.52" y2="187.0" stroke="#a6a6a6" stroke-width="0.8"/>
<line x1="404.04" y1="309.3" x2="404.04" y2="307.3" stroke="#a6a6a6" stroke-width="0.8"/>
<line x1="404.04" y1="185.0" x2="404.04" y2="187.0" stroke="#a6a6a6" stroke-width="0.8"/>
<line x1="431.55" y1="309.3" x2="431.55" y2="307.3" stroke="#a6a6a6" stroke-width="0.8"/>
<line x1="431.55" y1="185.0" x2="431.55" y2="187.0" stroke="#a6a6a6" stroke-width="0.8"/>
<line x1="459.06" y1="309.3" x2="459.06" y2="307.3" stroke="#a6a6a6" stroke-width="0.8"/>
<line x1="459.06" y1="185.0" x2="459.06" y2="187.0" stroke="#a6a6a6" stroke-width="0.8"/>
<line x1="486.57" y1="309.3" x2="486.57" y2="307.3" stroke="#a6a6a6" stroke-width="0.8"/>
<line x1="486.57" y1="185.0" x2="486.57" y2="187.0" stroke="#a6a6a6" stroke-width="0.8"/>
<line x1="514.09" y1="309.3" x2="514.09" y2="307.3" stroke="#a6a6a6" stroke-width="0.8"/>
<line x1="514.09" y1="185.0" x2="514.09" y2="187.0" stroke="#a6a6a6" stroke-width="0.8"/>
<line x1="541.60" y1="309.3" x2="541.60" y2="307.3" stroke="#a6a6a6" stroke-width="0.8"/>
<line x1="541.60" y1="185.0" x2="541.60" y2="187.0" stroke="#a6a6a6" stroke-width="0.8"/>
<line x1="321.5" y1="309.30" x2="323.5" y2="309.30" stroke="#a6a6a6" stroke-width="0.8"/>
<line x1="541.6" y1="309.30" x2="539.6" y2="309.30" stroke="#a6a6a6" stroke-width="0.8"/>
<line x1="321.5" y1="278.23" x2="323.5" y2="278.23" stroke="#a6a6a6" stroke-width="0.8"/>
<line x1="541.6" y1="278.23" x2="539.6" y2="278.23" stroke="#a6a6a6" stroke-width="0.8"/>
<line x1="321.5" y1="247.15" x2="323.5" y2="247.15" stroke="#a6a6a6" stroke-width="0.8"/>
<line x1="541.6" y1="247.15" x2="539.6" y2="247.15" stroke="#a6a6a6" stroke-width="0.8"/>
<line x1="321.5" y1="216.08" x2="323.5" y2="216.08" stroke="#a6a6a6" stroke-width="0.8"/>
<line x1="541.6" y1="216.08" x2="539.6" y2="216.08" stroke="#a6a6a6" stroke-width="0.8"/>
<line x1="321.5" y1="185.00" x2="323.5" y2="185.00" stroke="#a6a6a6" stroke-width="0.8"/>
<line x1="541.6" y1="185.00" x2="539.6" y2="185.00" stroke="#a6a6a6" stroke-width="0.8"/>
<text x="321.50" y="320.70" font-size="8.4" text-anchor="middle">0</text>
<text x="349.01" y="320.70" font-size="8.4" text-anchor="middle">50</text>
<text x="376.52" y="320.70" font-size="8.4" text-anchor="middle">100</text>
<text x="404.04" y="320.70" font-size="8.4" text-anchor="middle">150</text>
<text x="431.55" y="320.70" font-size="8.4" text-anchor="middle">200</text>
<text x="459.06" y="320.70" font-size="8.4" text-anchor="middle">250</text>
<text x="486.57" y="320.70" font-size="8.4" text-anchor="middle">300</text>
<text x="514.09" y="320.70" font-size="8.4" text-anchor="middle">350</text>
<text x="541.60" y="320.70" font-size="8.4" text-anchor="middle">400</text>
<text x="318.20" y="312.90" font-size="8.3" text-anchor="end">0</text>
<text x="318.20" y="281.83" font-size="8.3" text-anchor="end">0.1</text>
<text x="318.20" y="250.75" font-size="8.3" text-anchor="end">0.2</text>
<text x="318.20" y="219.68" font-size="8.3" text-anchor="end">0.3</text>
<text x="318.20" y="188.60" font-size="8.3" text-anchor="end">0.4</text>
<text x="431.55" y="182.20" font-size="9.6" text-anchor="middle">MAE of LOD(1–360d)</text>
<text x="432.05" y="331.90" font-size="9.6" text-anchor="middle">Forecast days</text>
<text transform="translate(304.60,247.55) rotate(-90)" x="0" y="0" font-size="9.6" text-anchor="middle">Average prediction error(ms)</text>
<rect x="325.40" y="188.80" width="42.1" height="28.35" fill="#fff" stroke="#b4b4b4" stroke-width="0.8"/>
<line x1="327.50" y1="194.20" x2="342.20" y2="194.20" stroke="#1E79C4" stroke-width="1.2"/>
<text x="344.20" y="196.70" font-size="7.5" letter-spacing="0.14">Case 1</text>
<line x1="327.50" y1="203.10" x2="342.20" y2="203.10" stroke="#DF6535" stroke-width="1.2"/>
<text x="344.20" y="205.60" font-size="7.5" letter-spacing="0.14">Case 2</text>
<line x1="327.50" y1="212.00" x2="342.20" y2="212.00" stroke="#EFB633" stroke-width="1.2"/>
<text x="344.20" y="214.50" font-size="7.5" letter-spacing="0.14">Case 3</text>
</svg>
</body></html>
